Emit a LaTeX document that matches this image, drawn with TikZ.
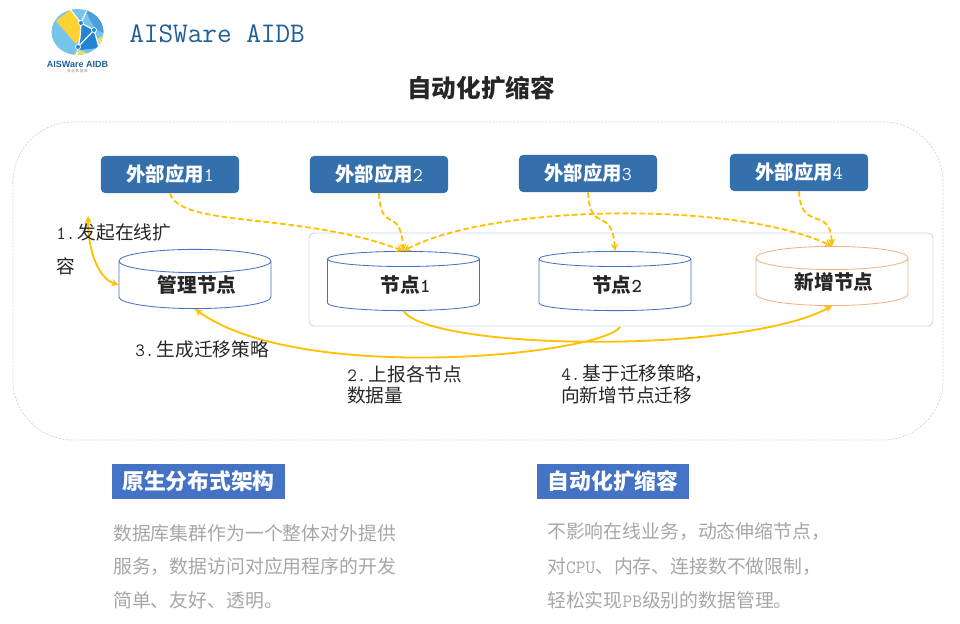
\documentclass[tikz,border=0pt]{standalone}
\usepackage{fontspec}
\setmainfont{Noto Sans CJK SC}
\newfontfamily\logofont{Liberation Sans}
\usetikzlibrary{shapes.geometric}
\newcommand{\num}[1]{{\ttfamily #1}}

\begin{document}
\begin{tikzpicture}[x = 0.025 cm, y = -0.025 cm,
	app/.style = {fill = appblue, rounded corners = 0.1 cm, minimum width = 3.45 cm, minimum height = 0.925 cm, inner sep = 0, text = white, font = \fontsize{13.8}{16}\selectfont\bfseries},
	db/.style = {cylinder, shape border rotate = 90, aspect = 0.28, draw = #1, line width = 0.6 pt, minimum width = 3.8 cm, minimum height = 1.48 cm, inner sep = 0, text = black!85, font = \fontsize{14}{16}\selectfont\bfseries},
	db/.default = dbblue,
	label/.style = {anchor = west, inner sep = 0, text = black!85, font = \fontsize{13.3}{16}\selectfont},
	head/.style = {fill = headblue, minimum height = 0.875 cm, inner sep = 0, text = white, font = \fontsize{15.5}{18}\selectfont\bfseries},
	body/.style = {anchor = west, inner sep = 0, text = bodygray, font = \fontsize{13.4}{16}\selectfont},
	flow/.style = {draw = flowgold, line width = 1.3 pt, -stealth},
	dashflow/.style = {flow, dash pattern = on 4 pt off 2 pt},
	]
	\definecolor{appblue}{HTML}{3470AC}
	\definecolor{dbblue}{HTML}{4472C4}
	\definecolor{dborange}{HTML}{F4B183}
	\definecolor{headblue}{HTML}{4472C4}
	\definecolor{bodygray}{HTML}{A6A6A6}
	\definecolor{flowgold}{HTML}{FFC000}
	\definecolor{framebl}{HTML}{C5D5EE}
	\definecolor{logoblue}{HTML}{1F5F99}
	\definecolor{logosky}{HTML}{74C4EC}
	\definecolor{logodeep}{HTML}{2484D2}
	\definecolor{logoyellow}{HTML}{FFD233}
	\definecolor{logopale}{HTML}{E6E070}
	\useasboundingbox (0, 0) rectangle (960, 624);
	
	% logo
	\begin{scope}
		\clip (77.5, 32) ellipse (26 and 23);
		\fill[logosky] (50, 5) rectangle (106, 60);
		\fill[logodeep] (82, 24) -- (94, 31) -- (98, 48) -- (80, 50) -- (80, 38) -- cycle;
		\fill[logodeep!80!white] (84, 8) -- (106, 8) -- (106, 34) -- (95, 29) -- cycle;
		\fill[logoyellow] (56, 21) -- (70, 10) -- (81, 23) -- (80, 38) -- (76, 44) -- cycle;
		\fill[logopale] (97, 39) -- (106, 34) -- (106, 50) -- (100, 48) -- cycle;
		\fill[logopale] (74, 54) -- (80, 50) -- (88, 54) -- (80, 58) -- cycle;
		\draw[white, line width = 0.8 pt] (70, 9) -- (81, 23) -- (94, 30) -- (100, 50);
		\draw[white, line width = 0.8 pt] (81, 23) -- (80, 38) -- (78, 47);
		\draw[white, line width = 0.8 pt] (94, 30) -- (78, 47) -- (76, 58);
		\draw[white, line width = 0.8 pt] (81, 23) -- (88, 8);
		\fill[logodeep, draw = white, line width = 0.5 pt] (81, 23) circle (2.5);
		\fill[logodeep, draw = white, line width = 0.5 pt] (94, 30) circle (2.5);
		\fill[logodeep, draw = white, line width = 0.5 pt] (78, 47) circle (2.5);
	\end{scope}
	\node[inner sep = 0, text = logoblue] (logotext) at (77.5, 64.5) {\logofont\fontsize{6.4}{7}\selectfont\bfseries AISWare AIDB};
	\node[inner sep = 0, text = black!45] (logosub) at (77.5, 71.5) {\fontsize{2.6}{3}\selectfont 亚\,信\,数\,据\,库};
	\node[anchor = west, inner sep = 0, text = logoblue] (brand) at (129, 34) {\ttfamily\fontsize{20.2}{22}\selectfont AISWare AIDB};
	
	\node[inner sep = 0, text = black!85] (title) at (481, 88) {\fontsize{17.5}{20}\selectfont\bfseries 自动化扩缩容};
	
	\draw[framebl, line width = 0.5 pt, dash pattern = on 1.5 pt off 1 pt, rounded corners = 1.5 cm] (13, 122) rectangle (943, 440);
	\draw[framebl, line width = 0.6 pt, rounded corners = 0.12 cm] (309, 233) rectangle (933, 326);
	
	\node[app] (app1) at (170, 174.5) {外部应用\num{\mdseries 1}};
	\node[app] (app2) at (379, 174.5) {外部应用\num{\mdseries 2}};
	\node[app] (app3) at (588, 173.5) {外部应用\num{\mdseries 3}};
	\node[app] (app4) at (799, 172.5) {外部应用\num{\mdseries 4}};
	
	\node[db] (mgr) at (195, 285) {\hspace*{3 pt}管理节点};
	\node[db] (n1) at (403.5, 285) {\hspace*{3 pt}节点\num{1}};
	\node[db] (n2) at (615, 285) {\hspace*{3 pt}节点\num{2}};
	\node[db = dborange] (nnew) at (832, 282) {\hspace*{3 pt}新增节点};
	
	\coordinate (tip) at (88, 216);
	\coordinate (n2out) at (620, 327);
	
	\draw[dashflow] (app1.south) .. controls (180, 228) and (300, 212) .. (n1.north);
	\draw[dashflow] (app2.south) .. controls (381, 235) and (400, 205) .. (n1.north);
	\draw[dashflow] (app3.south) .. controls (590, 235) and (612, 205) .. (n2.north);
	\draw[dashflow] (app4.south) .. controls (801, 233) and (830, 205) .. (nnew.north);
	\draw[dashflow, stealth-stealth] (n1.north) .. controls (490, 205) and (730, 200) .. (nnew.north);
	\draw[flow, stealth-stealth] (tip) .. controls (88, 250) and (98, 278) .. (mgr.west);
	\draw[flow] (n2out) .. controls (600, 355) and (300, 385) .. (mgr.south);
	\draw[flow] (n1.south) .. controls (430, 350) and (740, 355) .. (nnew.south);
	
	\node[label] (l1a) at (56, 232) {\num{1.}\hspace{1.5 pt}发起在线扩};
	\node[label] (l1b) at (56, 266) {容};
	\node[label] (l3) at (135, 349) {\num{3.}\hspace{1.5 pt}生成迁移策略};
	\node[label] (l2a) at (347, 374) {\num{2.}\hspace{1.5 pt}上报各节点};
	\node[label] (l2b) at (347, 395) {数据量};
	\node[label] (l4a) at (561, 374) {\num{4.}\hspace{1.5 pt}基于迁移策略，};
	\node[label] (l4b) at (561, 395) {向新增节点迁移};
	
	\node[head, minimum width = 4.325 cm] (headl) at (198.5, 481.5) {原生分布式架构};
	\node[head, minimum width = 3.8 cm] (headr) at (613, 481.5) {自动化扩缩容};
	
	\node[body] (ba) at (113, 533) {数据库集群作为一个整体对外提供};
	\node[body] (bb) at (113, 567) {服务，数据访问对应用程序的开发};
	\node[body] (bc) at (113, 600) {简单、友好、透明。};
	
	\node[body] (bd) at (547, 532) {不影响在线业务，动态伸缩节点，};
	\node[body] (be) at (547, 567) {对\num{CPU}、内存、连接数不做限制，};
	\node[body] (bf) at (547, 600) {轻松实现\num{PB}级别的数据管理。};
\end{tikzpicture}
\end{document}
